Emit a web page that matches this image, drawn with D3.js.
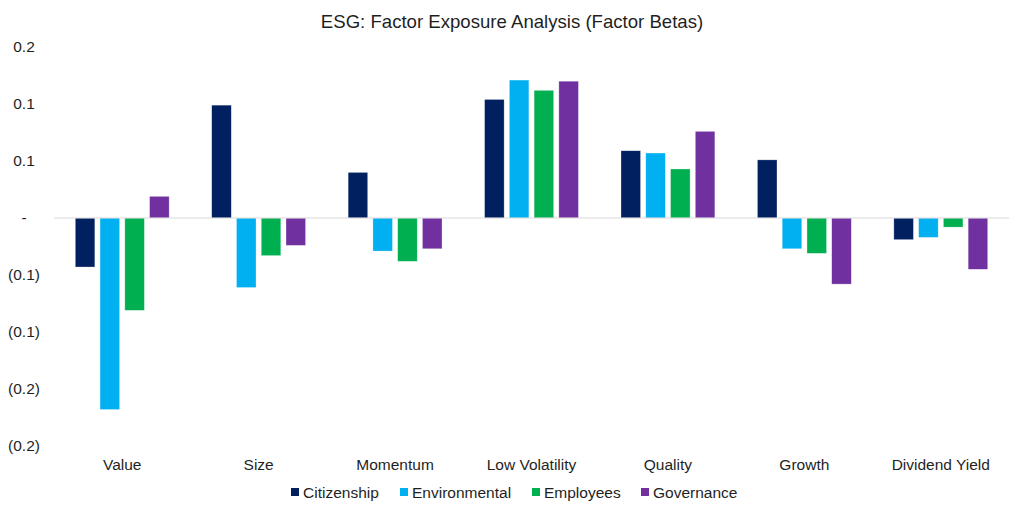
<!DOCTYPE html>
<html>
<head>
<meta charset="utf-8">
<script src="https://cdn.jsdelivr.net/npm/d3@7"></script>
<style>
  body { margin: 0; background: #fff; }
  text { font-family: "Liberation Sans", Arial, sans-serif; fill: #1f1f1f; }
</style>
</head>
<body>
<div id="chart"></div>
<script>
// Données
const categories = ["Value", "Size", "Momentum", "Low Volatility", "Quality", "Growth", "Dividend Yield"];
const series = ["Citizenship", "Environmental", "Employees", "Governance"];
const colors = ["#002060", "#00B0F0", "#00B050", "#7030A0"];
const citizenship   = [-0.043,  0.099,  0.040, 0.104, 0.059,  0.051, -0.019];
const environmental = [-0.168, -0.061, -0.029, 0.121, 0.057, -0.027, -0.017];
const employees     = [-0.081, -0.033, -0.038, 0.112, 0.043, -0.031, -0.008];
const governance    = [ 0.019, -0.024, -0.027, 0.120, 0.076, -0.058, -0.045];
const tickValues = [0.15, 0.10, 0.05, 0, -0.05, -0.10, -0.15, -0.20];
const tickLabels = ["0.2", "0.1", "0.1", "-", "(0.1)", "(0.1)", "(0.2)", "(0.2)"];

const values = [citizenship, environmental, employees, governance];

const width = 1024;
const height = 512;
const margin = { left: 54, right: 15, top: 47, bottom: 66 };

const svg = d3.select("#chart")
    .append("svg")
    .attr("width", width)
    .attr("height", height);

// Échelles
const x0 = d3.scaleBand()
    .domain(categories)
    .range([margin.left, width - margin.right]);

const bw = x0.bandwidth();
const x1 = d3.scaleBand()
    .domain(series)
    .range([bw * 0.156, bw * 0.844])
    .paddingInner(0.21);

const y = d3.scaleLinear()
    .domain([-0.2, 0.15])
    .range([height - margin.bottom, margin.top]);

// Titre
svg.append("text")
    .attr("x", 512)
    .attr("y", 28)
    .attr("text-anchor", "middle")
    .attr("font-size", "18.6px")
    .text("ESG: Factor Exposure Analysis (Factor Betas)");

// Axe Y (étiquettes seulement)
svg.append("g")
    .selectAll("text")
    .data(tickValues)
    .enter().append("text")
    .attr("x", 24)
    .attr("y", d => y(d))
    .attr("dy", "0.35em")
    .attr("text-anchor", "middle")
    .attr("font-size", "15.5px")
    .text((d, i) => tickLabels[i]);

// Barres
const groups = svg.append("g")
    .selectAll("g")
    .data(categories)
    .enter().append("g")
    .attr("transform", d => `translate(${x0(d)},0)`);

groups.selectAll("rect")
    .data((d, ci) => series.map((s, si) => ({ s, si, v: values[si][ci] })))
    .enter().append("rect")
    .attr("x", d => x1(d.s))
    .attr("width", x1.bandwidth())
    .attr("y", d => y(Math.max(0, d.v)))
    .attr("height", d => Math.abs(y(d.v) - y(0)))
    .attr("fill", d => colors[d.si])
    .attr("stroke", "#ffffff")
    .attr("stroke-opacity", 0.5)
    .attr("stroke-width", 0.6);

// Ligne zéro
svg.append("line")
    .attr("x1", margin.left)
    .attr("x2", width - margin.right)
    .attr("y1", y(0))
    .attr("y2", y(0))
    .attr("stroke", "#d9d9d9")
    .attr("stroke-width", 1);

// Étiquettes des catégories
svg.append("g")
    .selectAll("text")
    .data(categories)
    .enter().append("text")
    .attr("x", d => x0(d) + bw / 2)
    .attr("y", 470)
    .attr("text-anchor", "middle")
    .attr("font-size", "15.5px")
    .text(d => d);

// Légende
const legendX = [291, 400, 532, 641];
const legend = svg.append("g")
    .selectAll("g")
    .data(series)
    .enter().append("g")
    .attr("transform", (d, i) => `translate(${legendX[i]}, 488)`);

legend.append("rect")
    .attr("width", 8)
    .attr("height", 8)
    .attr("fill", (d, i) => colors[i]);

legend.append("text")
    .attr("x", 12)
    .attr("y", 4)
    .attr("dy", "0.36em")
    .attr("font-size", "15.5px")
    .text(d => d);
</script>
</body>
</html>
